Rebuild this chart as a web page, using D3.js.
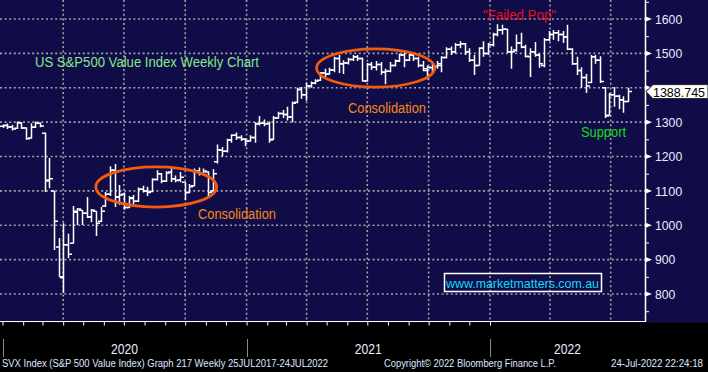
<!DOCTYPE html>
<html>
<head>
<meta charset="utf-8">
<script src="https://cdn.jsdelivr.net/npm/d3@7/dist/d3.min.js"></script>
<style>
  html, body { margin: 0; padding: 0; background: #000; }
  svg { display: block; font-family: "Liberation Sans", Arial, sans-serif; }
</style>
</head>
<body>
<div id="chart"></div>
<script>
// weekly OHLC, one bar per week (week ending fridays 27DEC2019 .. 22JUL2022)
var opens = [1288,1290,1286,1282,1298,1283,1254,1285,1297,1268,1132,1100,937,847,943,948,1038,1044,1035,1024,
  1041,1012,1056,1090,1160,1082,1090,1052,1078,1070,1105,1100,1098,1133,1150,1128,1155,1135,1132,1125,
  1095,1115,1158,1150,1155,1100,1185,1218,1215,1248,1262,1255,1250,1245,1255,1295,1297,1295,1250,1312,
  1325,1322,1315,1358,1395,1380,1405,1413,1422,1443,1440,1452,1485,1470,1472,1482,1490,1485,1420,1468,
  1460,1468,1445,1448,1465,1478,1495,1480,1495,1485,1465,1450,1458,1462,1465,1488,1512,1505,1525,1528,
  1505,1480,1465,1515,1500,1525,1555,1568,1570,1505,1510,1530,1518,1490,1505,1495,1465,1540,1555,1560,
  1555,1548,1512,1470,1450,1430,1415,1490,1480,1400,1320,1380,1375,1365,1360];
var highs = [1293,1296,1292,1302,1300,1285,1297,1302,1299,1270,1196,1100,963,1006,975,1056,1050,1044,1082,1047,
  1041,1053,1097,1172,1178,1117,1095,1085,1088,1110,1115,1112,1137,1160,1152,1157,1172,1145,1155,1125,
  1120,1165,1168,1165,1157,1163,1235,1228,1252,1265,1270,1262,1253,1262,1300,1318,1308,1302,1318,1330,
  1335,1345,1360,1400,1402,1415,1418,1425,1446,1455,1458,1490,1495,1480,1487,1495,1495,1488,1472,1475,
  1478,1475,1455,1475,1482,1500,1503,1500,1502,1490,1478,1465,1475,1478,1492,1518,1520,1530,1535,1530,
  1515,1495,1518,1535,1530,1560,1585,1583,1572,1520,1555,1560,1525,1515,1533,1500,1545,1565,1568,1568,
  1565,1583,1515,1490,1460,1440,1495,1495,1492,1402,1385,1402,1380,1375,1400];
var lows = [1283,1280,1276,1280,1280,1249,1252,1283,1285,1097,1108,928,850,803,905,948,1001,1001,1021,1009,
  969,1009,1053,1085,1053,1060,1045,1050,1062,1068,1095,1085,1096,1130,1122,1126,1126,1125,1125,1073,
  1093,1113,1145,1145,1079,1098,1180,1200,1212,1240,1248,1245,1230,1243,1240,1290,1288,1240,1248,1310,
  1312,1305,1300,1355,1368,1362,1400,1410,1420,1430,1438,1445,1443,1440,1468,1478,1478,1418,1418,1452,
  1450,1438,1410,1445,1462,1475,1460,1478,1478,1460,1448,1425,1440,1455,1445,1485,1495,1500,1515,1495,
  1475,1437,1465,1490,1495,1520,1550,1555,1502,1455,1505,1515,1488,1431,1490,1458,1460,1535,1540,1535,
  1530,1510,1466,1437,1400,1385,1414,1470,1414,1312,1318,1345,1338,1327,1358];
var closes = [1290,1286,1280,1298,1283,1252,1285,1297,1289,1129,1135,1012,850,943,916,1041,1047,1035,1024,1044,
  1006,1041,1090,1160,1082,1088,1052,1080,1070,1105,1100,1095,1133,1150,1128,1152,1135,1130,1140,1095,
  1112,1158,1150,1158,1095,1150,1220,1215,1248,1262,1255,1250,1245,1255,1295,1297,1295,1248,1312,1325,
  1322,1315,1355,1395,1380,1405,1413,1420,1443,1440,1452,1485,1470,1472,1482,1490,1485,1420,1468,1460,
  1468,1445,1448,1465,1478,1495,1480,1495,1485,1465,1455,1460,1462,1470,1488,1512,1505,1525,1528,1505,
  1480,1465,1515,1500,1525,1555,1568,1570,1505,1505,1530,1518,1492,1505,1495,1470,1540,1555,1560,1555,
  1548,1512,1470,1450,1430,1405,1490,1480,1418,1318,1380,1375,1365,1360,1388.745];

var gridTicks = [800, 900, 1000, 1100, 1200, 1300, 1400, 1500, 1600];
var labelTicks = [800, 900, 1000, 1100, 1200, 1300, 1500, 1600]; // 1400 sits under the price tag
var minorTicks = [750, 850, 950, 1050, 1150, 1250, 1350, 1450, 1550, 1650];
var yearLabels = ["2020", "2021", "2022"];
var lastPrice = 1388.745;

var width = 708, height = 372;
var plotRight = 645, plotBottom = 321.5;

var svg = d3.select("#chart").append("svg")
    .attr("width", width)
    .attr("height", height);

svg.append("rect").attr("width", width).attr("height", height).attr("fill", "#000");
svg.append("rect").attr("width", width).attr("height", 322.5).attr("fill", "#100c48");

var x = d3.scaleTime()
    .domain([new Date(2020, 0, 1), new Date(2022, 0, 1)])
    .range([2.5, 490]);
var y = d3.scaleLinear()
    .domain([800, 1600])
    .range([294, 19]);

var weeks = d3.timeFriday.range(new Date(2019, 11, 27), new Date(2022, 6, 23));
var data = weeks.map(function (d, i) {
    return { date: d, o: opens[i], h: highs[i], l: lows[i], c: closes[i] };
});
// bloomberg draws each weekly bar a bit right of the friday
function bx(d) { return Math.round(x(d3.timeDay.offset(d.date, 5))) + 0.5; }

svg.append("clipPath").attr("id", "plot")
  .append("rect").attr("width", plotRight).attr("height", plotBottom);

// dotted grid
var grid = svg.append("g")
    .attr("stroke", "#a2a2a8")
    .attr("stroke-width", 1.6)
    .attr("stroke-dasharray", "2,2.6")
    .attr("clip-path", "url(#plot)");
grid.selectAll(".h").data(gridTicks).enter().append("line")
    .attr("x1", 0).attr("x2", plotRight)
    .attr("y1", function (d) { return y(d); })
    .attr("y2", function (d) { return y(d); });
var quarters = d3.timeMonth.every(3).range(new Date(2020, 1, 1), new Date(2022, 8, 1));
grid.selectAll(".v").data(quarters).enter().append("line")
    .attr("x1", function (d) { return x(d); })
    .attr("x2", function (d) { return x(d); })
    .attr("y1", 0).attr("y2", plotBottom);

// OHLC bars
svg.append("g")
    .attr("clip-path", "url(#plot)")
    .selectAll("path").data(data).enter().append("path")
    .attr("fill", "none")
    .attr("stroke", "#fff")
    .attr("stroke-width", 1.5)
    .attr("d", function (d) {
        var cx = bx(d);
        return "M" + cx + "," + y(d.h) + "V" + y(d.l) +
            "M" + (cx - 3.5) + "," + y(d.o) + "H" + cx +
            "M" + cx + "," + y(d.c) + "H" + (cx + 3.5);
    });

// consolidation ellipses
var ell = [
    { from: new Date(2020, 4, 20), to: new Date(2020, 10, 17), lo: 1053, hi: 1170 },
    { from: new Date(2021, 3, 16), to: new Date(2021, 9, 10), lo: 1402, hi: 1513 }
];
svg.append("g").selectAll("ellipse").data(ell).enter().append("ellipse")
    .attr("cx", function (d) { return (x(d.from) + x(d.to)) / 2; })
    .attr("cy", function (d) { return (y(d.lo) + y(d.hi)) / 2; })
    .attr("rx", function (d) { return (x(d.to) - x(d.from)) / 2; })
    .attr("ry", function (d) { return (y(d.lo) - y(d.hi)) / 2; })
    .attr("fill", "none")
    .attr("stroke", "#f25a0e")
    .attr("stroke-width", 2.8);

// right price axis
var yAxis = svg.append("g")
    .attr("transform", "translate(" + plotRight + ",0)")
    .call(d3.axisRight(y).tickValues(labelTicks).tickSize(0).tickPadding(10).tickFormat(d3.format("d")));
yAxis.select(".domain").remove();
yAxis.selectAll("text")
    .attr("fill", "#e8ecff")
    .attr("font-size", 13.5)
    .attr("font-family", "Liberation Sans, Arial, sans-serif")
    .attr("textLength", function (d) { return String(d).length * 6.8; })
    .attr("lengthAdjust", "spacingAndGlyphs");
svg.append("g").selectAll("path").data(gridTicks).enter().append("path")
    .attr("transform", function (d) { return "translate(" + plotRight + "," + y(d) + ")"; })
    .attr("d", "M0,-2.8L7,0L0,2.8Z")
    .attr("fill", "#fff");
svg.append("g").selectAll("line").data(minorTicks).enter().append("line")
    .attr("x1", plotRight).attr("x2", plotRight + 4)
    .attr("y1", function (d) { return y(d) + 0.5; })
    .attr("y2", function (d) { return y(d) + 0.5; })
    .attr("stroke", "#fff");
svg.append("line")
    .attr("x1", plotRight + 0.5).attr("x2", plotRight + 0.5)
    .attr("y1", 0).attr("y2", plotBottom + 0.5)
    .attr("stroke", "#fff").attr("stroke-width", 1.5);

// last price tag
var ly = y(lastPrice);
svg.append("path")
    .attr("d", "M" + (plotRight + 1) + "," + ly + "L" + (plotRight + 8) + "," + (ly - 7) +
        "H" + width + "V" + (ly + 7) + "H" + (plotRight + 8) + "Z")
    .attr("fill", "#fff")
    .attr("stroke", "#222");
svg.append("text")
    .attr("x", 653).attr("y", ly + 5)
    .attr("font-size", 13.5)
    .attr("fill", "#000")
    .attr("textLength", 52).attr("lengthAdjust", "spacingAndGlyphs")
    .text(lastPrice.toFixed(3));

// bottom time axis
var xAxis = svg.append("g")
    .attr("transform", "translate(0," + plotBottom + ")")
    .call(d3.axisBottom(x).ticks(d3.timeMonth.every(1)).tickSize(4).tickFormat(""));
xAxis.select(".domain").remove();
xAxis.selectAll(".tick").filter(function (d) { return x(d) > plotRight; }).remove();
xAxis.selectAll("line").attr("stroke", "#fff");
svg.append("line")
    .attr("x1", 0).attr("x2", plotRight)
    .attr("y1", plotBottom).attr("y2", plotBottom)
    .attr("stroke", "#fff");

var yearStarts = yearLabels.map(function (t) { return new Date(+t, 0, 1); });
svg.append("g").selectAll("line").data(yearStarts).enter().append("line")
    .attr("x1", function (d) { return Math.round(x(d)) + 0.5; })
    .attr("x2", function (d) { return Math.round(x(d)) + 0.5; })
    .attr("y1", 339).attr("y2", 357)
    .attr("stroke", "#8a8a8a");
svg.append("g").selectAll("text").data(yearLabels).enter().append("text")
    .attr("x", function (d) {
        var a = x(new Date(+d, 0, 1)), b = Math.min(x(new Date(+d + 1, 0, 1)), plotRight);
        return (a + b) / 2;
    })
    .attr("y", 353.5)
    .attr("text-anchor", "middle")
    .attr("font-size", 14)
    .attr("fill", "#e8ecff")
    .attr("textLength", 27).attr("lengthAdjust", "spacingAndGlyphs")
    .text(function (d) { return d; });

// footer
var footer = [
    { x: 2, w: 326, t: "SVX Index (S&P 500 Value Index) Graph 217  Weekly 25JUL2017-24JUL2022" },
    { x: 384, w: 172, t: "Copyright\u00a9 2022 Bloomberg Finance L.P." },
    { x: 611, w: 92, t: "24-Jul-2022 22:24:18" }
];
svg.append("g").selectAll("text").data(footer).enter().append("text")
    .attr("x", function (d) { return d.x; })
    .attr("y", 367)
    .attr("font-size", 10)
    .attr("fill", "#dfe6ff")
    .attr("textLength", function (d) { return d.w; })
    .attr("lengthAdjust", "spacingAndGlyphs")
    .text(function (d) { return d.t; });

// annotations
var notes = [
    { x: 35, y: 67, w: 224, c: "#86e888", t: "US S&P500 Value Index Weekly Chart" },
    { x: 198, y: 219, w: 78, c: "#f58a10", t: "Consolidation" },
    { x: 348, y: 113, w: 78, c: "#f58a10", t: "Consolidation" },
    { x: 483, y: 19.5, w: 73, c: "#e4101e", t: "\"Failed Pop\"" },
    { x: 581, y: 136.5, w: 45, c: "#12dc12", t: "Support" }
];
svg.append("g").selectAll("text").data(notes).enter().append("text")
    .attr("x", function (d) { return d.x; })
    .attr("y", function (d) { return d.y; })
    .attr("font-size", 14)
    .attr("fill", function (d) { return d.c; })
    .attr("textLength", function (d) { return d.w; })
    .attr("lengthAdjust", "spacingAndGlyphs")
    .text(function (d) { return d.t; });

svg.append("rect")
    .attr("x", 444.5).attr("y", 273.5)
    .attr("width", 157).attr("height", 18)
    .attr("fill", "none")
    .attr("stroke", "#fff").attr("stroke-width", 1.5);
svg.append("text")
    .attr("x", 446).attr("y", 287.5)
    .attr("font-size", 13.5)
    .attr("fill", "#12d8f2")
    .attr("textLength", 153).attr("lengthAdjust", "spacingAndGlyphs")
    .text("www.marketmatters.com.au");
</script>
</body>
</html>
